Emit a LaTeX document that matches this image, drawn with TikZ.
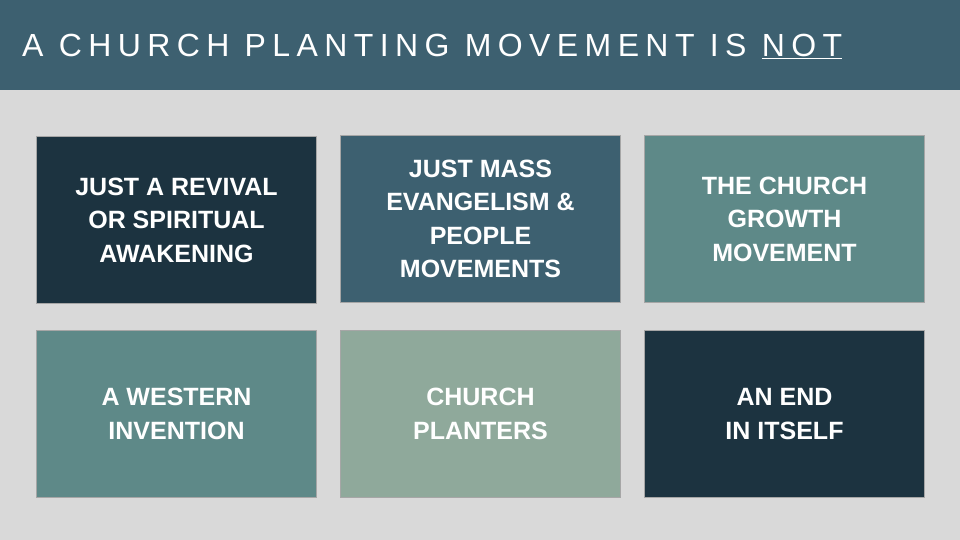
\documentclass[tikz,border=0pt]{standalone}
\usepackage{fontspec}
\setmainfont{Liberation Sans}
\newfontfamily\spaced[LetterSpace=20]{Liberation Sans}
\definecolor{bg}{HTML}{D9D9D9}
\definecolor{head}{HTML}{3D6070}
\definecolor{dk}{HTML}{1C3340}
\definecolor{md}{HTML}{3D6070}
\definecolor{tl}{HTML}{5E8988}
\definecolor{sg}{HTML}{8FA99B}
\tikzset{card/.style={draw=gray!70,line width=0.8pt,minimum width=280pt,minimum height=167pt,align=center,text=white,font=\fontsize{25}{33.5}\selectfont\bfseries,inner sep=0pt}}
\begin{document}
\begin{tikzpicture}[x=1pt,y=-1pt]
\fill[bg] (0,0) rectangle (960,540);
\fill[head] (0,0) rectangle (960,90);
\node[anchor=west,text=white,font=\fontsize{32}{34}\selectfont\spaced,inner sep=0pt] (title) at (22,46) {A CHURCH PLANTING MOVEMENT IS \underline{NOT}};
\node[card,fill=dk] (a) at (176.5,220) {JUST A REVIVAL\\OR SPIRITUAL\\AWAKENING};
\node[card,fill=md] (b) at (480.5,219) {JUST MASS\\EVANGELISM \&\\PEOPLE\\MOVEMENTS};
\node[card,fill=tl] (c) at (784.5,219) {THE CHURCH\\GROWTH\\MOVEMENT};
\node[card,fill=tl] (d) at (176.5,414) {A WESTERN\\INVENTION};
\node[card,fill=sg] (e) at (480.5,414) {CHURCH\\PLANTERS};
\node[card,fill=dk] (f) at (784.5,414) {AN END\\IN ITSELF};
\end{tikzpicture}
\end{document}
